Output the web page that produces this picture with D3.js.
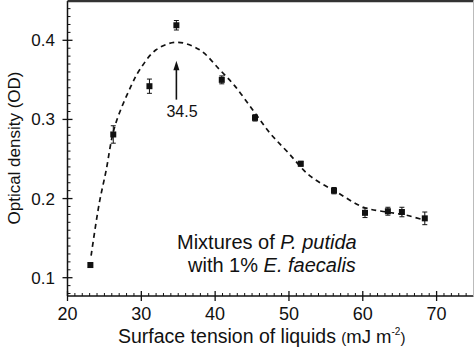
<!DOCTYPE html>
<html>
<head>
<meta charset="utf-8">
<script src="https://d3js.org/d3.v7.min.js"></script>
<style>
  body { margin: 0; background: #fff; }
  text { font-family: 'Liberation Sans', Arial, sans-serif; fill: #111; }
</style>
</head>
<body>
<svg id="chart" width="474" height="348"></svg>
<script>
// measured points
const tension = [23.1, 26.2, 31.1, 34.75, 40.9, 45.4, 51.6, 56.1, 60.3, 63.4, 65.3, 68.4];
const od      = [0.116, 0.281, 0.342, 0.419, 0.350, 0.302, 0.244, 0.210, 0.182, 0.184, 0.183, 0.175];
const odErr   = [0.003, 0.011, 0.009, 0.006, 0.005, 0.004, 0.003, 0.004, 0.006, 0.005, 0.006, 0.008];

// dashed fit curve
const fitX = [23.2, 24.3, 25.2, 26.4, 28.6, 29.8, 32.0, 34.8, 37.9, 40.6, 42.6, 45.1, 47.4, 49.9, 52.8, 56.5, 60.1, 63.2, 65.9, 68.4];
const fitY = [0.128, 0.194, 0.234, 0.291, 0.342, 0.363, 0.388, 0.3975, 0.388, 0.363, 0.343, 0.312, 0.283, 0.258, 0.229, 0.208, 0.189, 0.183, 0.179, 0.1725];

const xTicks = [20, 30, 40, 50, 60, 70];
const yTicks = [0.1, 0.2, 0.3, 0.4];

const pLeft = 67.5, pRight = 473.5, pTop = 1, pBottom = 296;

const svg = d3.select('#chart');

const x = d3.scaleLinear().domain([20, 70]).range([67.5, 436.6]);
const y = d3.scaleLinear().domain([0.1, 0.4]).range([277.7, 40.3]);

// minor ticks
const xMinor = d3.range(21, 76, 1).filter(v => v % 10 !== 0);
const yMinor = d3.range(8, 45).map(v => v / 100).filter(v => Math.round(v * 100) % 10 !== 0);

const ax = svg.append('g').attr('stroke', '#111');
ax.selectAll('.xm').data(xMinor).enter().append('line')
  .attr('x1', d => x(d)).attr('x2', d => x(d))
  .attr('y1', pBottom).attr('y2', pBottom - 3).attr('stroke-width', 1);
ax.selectAll('.ym').data(yMinor).enter().append('line')
  .attr('y1', d => y(d)).attr('y2', d => y(d))
  .attr('x1', pLeft).attr('x2', pLeft + 3).attr('stroke-width', 1);
ax.selectAll('.xM').data(xTicks).enter().append('line')
  .attr('x1', d => x(d)).attr('x2', d => x(d))
  .attr('y1', pBottom + 5).attr('y2', pBottom - 5).attr('stroke-width', 1.3);
ax.selectAll('.yM').data(yTicks).enter().append('line')
  .attr('y1', d => y(d)).attr('y2', d => y(d))
  .attr('x1', pLeft - 5).attr('x2', pLeft + 5).attr('stroke-width', 1.3);

// frame
ax.append('line').attr('x1', pLeft).attr('x2', pRight).attr('y1', pBottom).attr('y2', pBottom).attr('stroke-width', 1.5);
ax.append('line').attr('x1', pLeft).attr('x2', pLeft).attr('y1', pTop).attr('y2', pBottom).attr('stroke-width', 1.5);
ax.append('line').attr('x1', pLeft).attr('x2', pRight).attr('y1', pTop).attr('y2', pTop).attr('stroke-width', 2.5).attr('stroke', '#333');
ax.append('line').attr('x1', pRight).attr('x2', pRight).attr('y1', pTop).attr('y2', pBottom).attr('stroke-width', 1).attr('stroke', '#bbb');

// tick labels
svg.selectAll('.xl').data(xTicks).enter().append('text')
  .attr('x', d => x(d)).attr('y', 320)
  .attr('text-anchor', 'middle').attr('font-size', 18)
  .text(d => d);
svg.selectAll('.yl').data(yTicks).enter().append('text')
  .attr('x', 55).attr('y', d => y(d) + 6)
  .attr('text-anchor', 'end').attr('font-size', 17)
  .text(d => d3.format('.1f')(d));

// axis titles
const xt = svg.append('text').attr('x', 118).attr('y', 342.5).attr('font-size', 19.5);
xt.append('tspan').text('Surface tension of liquids ');
xt.append('tspan').attr('font-size', 15).text('(');
xt.append('tspan').attr('font-size', 18.5).text('mJ m');
xt.append('tspan').attr('font-size', 10).attr('dy', -8).text('-2');
xt.append('tspan').attr('font-size', 15).attr('dy', 8).text(')');

svg.append('text')
  .attr('transform', 'translate(20,148) rotate(-90)')
  .attr('text-anchor', 'middle').attr('font-size', 17)
  .text('Optical density (OD)');

// fit curve
const fit = fitX.map((v, i) => [v, fitY[i]]);
svg.append('path')
  .datum(fit)
  .attr('fill', 'none').attr('stroke', '#111').attr('stroke-width', 1.7)
  .attr('stroke-dasharray', '5,4')
  .attr('d', d3.line().x(d => x(d[0])).y(d => y(d[1])).curve(d3.curveCatmullRom));

// error bars + markers
const pts = tension.map((v, i) => ({ x: v, y: od[i], e: odErr[i] }));
const eb = svg.append('g').attr('stroke', '#111').attr('stroke-width', 1);
eb.selectAll('.v').data(pts).enter().append('line')
  .attr('x1', d => x(d.x)).attr('x2', d => x(d.x))
  .attr('y1', d => y(d.y - d.e)).attr('y2', d => y(d.y + d.e));
eb.selectAll('.c1').data(pts).enter().append('line')
  .attr('x1', d => x(d.x) - 2.5).attr('x2', d => x(d.x) + 2.5)
  .attr('y1', d => y(d.y + d.e)).attr('y2', d => y(d.y + d.e));
eb.selectAll('.c2').data(pts).enter().append('line')
  .attr('x1', d => x(d.x) - 2.5).attr('x2', d => x(d.x) + 2.5)
  .attr('y1', d => y(d.y - d.e)).attr('y2', d => y(d.y - d.e));
svg.selectAll('.pt').data(pts).enter().append('rect')
  .attr('x', d => x(d.x) - 3).attr('y', d => y(d.y) - 3)
  .attr('width', 6).attr('height', 6).attr('fill', '#111');

// arrow to maximum
const arrX = x(34.75);
svg.append('line').attr('x1', arrX).attr('x2', arrX)
  .attr('y1', y(0.325)).attr('y2', y(0.365))
  .attr('stroke', '#111').attr('stroke-width', 1.6);
svg.append('path')
  .attr('d', `M${arrX},${y(0.374)} L${arrX - 3},${y(0.362)} L${arrX + 3},${y(0.362)} Z`)
  .attr('fill', '#111');
svg.append('text').attr('x', 182).attr('y', 117)
  .attr('text-anchor', 'middle').attr('font-size', 16).text('34.5');

// legend text
const t1 = svg.append('text').attr('x', 177).attr('y', 248.5).attr('font-size', 20);
t1.append('tspan').text('Mixtures of ');
t1.append('tspan').attr('font-style', 'italic').text('P. putida');
const t2 = svg.append('text').attr('x', 188).attr('y', 272).attr('font-size', 20);
t2.append('tspan').text('with 1% ');
t2.append('tspan').attr('font-style', 'italic').text('E. faecalis');
</script>
</body>
</html>
